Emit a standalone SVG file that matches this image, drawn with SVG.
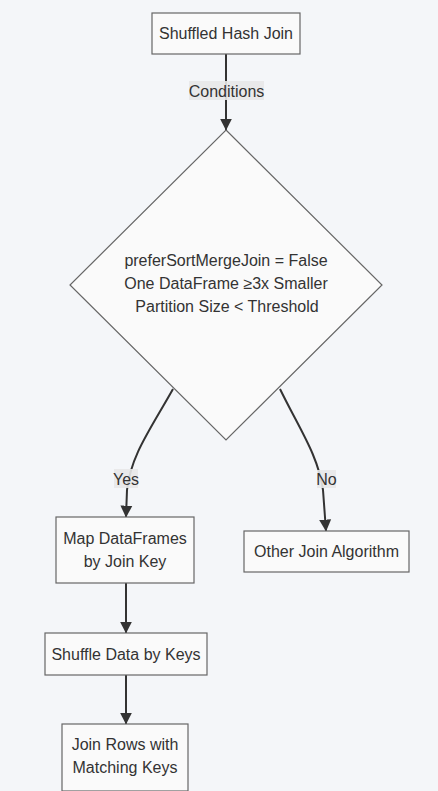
<svg xmlns="http://www.w3.org/2000/svg" width="438" height="791" viewBox="0 0 438 791">
<style>
.bg{fill:#f4f6f9}
.node{fill:#fafafa;stroke:#666;stroke-width:1.2}
.edge{fill:none;stroke:#333;stroke-width:2}
.lbl{fill:#e8e8e8;opacity:0.9}
text{font-family:"Liberation Sans",Arial,sans-serif;font-size:16px;fill:#333;text-anchor:middle;dominant-baseline:central}
</style>
<defs>
<marker id="arr" markerUnits="userSpaceOnUse" markerWidth="12" markerHeight="13" viewBox="0 0 10 10" refX="9.5" refY="5" orient="auto">
<path d="M0,0 L10,5 L0,10 z" fill="#333"/>
</marker>
</defs>
<rect class="bg" width="438" height="791"/>
<g id="edges">
<path class="edge" d="M226,54 L226,130" marker-end="url(#arr)"/>
<path class="edge" d="M173,389 C150,430 131,455 127,490 L126,517" marker-end="url(#arr)"/>
<path class="edge" d="M280,389 C300,430 318,455 323,490 L326,531" marker-end="url(#arr)"/>
<path class="edge" d="M126,583 L126,633" marker-end="url(#arr)"/>
<path class="edge" d="M126,675 L126,724" marker-end="url(#arr)"/>
<rect class="lbl" x="189" y="81" width="75" height="19"/>
<text x="226.5" y="91">Conditions</text>
<rect class="lbl" x="114" y="469" width="24" height="19"/>
<text x="126" y="479">Yes</text>
<rect class="lbl" x="317" y="470" width="19" height="18"/>
<text x="326.5" y="479">No</text>
</g>
<g id="n1">
<rect class="node" x="152" y="13" width="148" height="41"/>
<text x="226" y="33.5">Shuffled Hash Join</text>
</g>
<g id="n2">
<polygon class="node" points="226,130 382,285 226,440 70,285"/>
<text x="226" y="260">preferSortMergeJoin = False</text>
<text x="226" y="283.5">One DataFrame ≥3x Smaller</text>
<text x="227" y="306.5">Partition Size &lt; Threshold</text>
</g>
<g id="n3">
<rect class="node" x="56" y="517" width="138" height="66"/>
<text x="125" y="538.5">Map DataFrames</text>
<text x="125" y="561.5">by Join Key</text>
</g>
<g id="n4">
<rect class="node" x="244" y="531" width="165" height="41"/>
<text x="326.5" y="551.5">Other Join Algorithm</text>
</g>
<g id="n5">
<rect class="node" x="45" y="633" width="162" height="42"/>
<text x="126" y="654">Shuffle Data by Keys</text>
</g>
<g id="n6">
<rect class="node" x="62" y="724" width="126" height="67"/>
<text x="125" y="744.5">Join Rows with</text>
<text x="125" y="767.5">Matching Keys</text>
</g>
</svg>
